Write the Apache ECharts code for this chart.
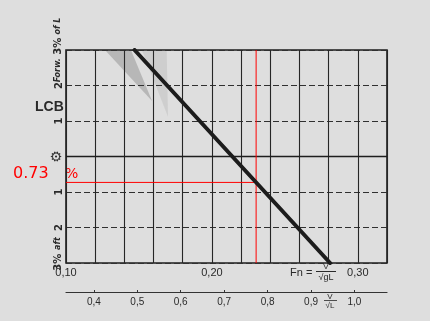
<!DOCTYPE html>
<html>
<head>
<meta charset="utf-8">
<script src="https://cdn.jsdelivr.net/npm/echarts@6/dist/echarts.min.js"></script>
<style>
html,body{margin:0;padding:0;background:#dedede;}
#c{width:430px;height:321px;}
</style>
</head>
<body>
<div id="c"></div>
<script>
// ---- data ----
var fnTicks = [0.10, 0.20, 0.30];                 // labelled Froude numbers
var lcbTicks = [3, 2, 1, 0, -1, -2, -3];          // LCB, % of L (+ forward)
var vlTicks = [0.4, 0.5, 0.6, 0.7, 0.8, 0.9, 1.0]; // V/sqrt(L) labels
var fnPerVL = 0.2977;                              // Fn = 0.2977 * V/sqrt(L)
var lcbLineFn = [0.147, 0.281];                   // black design line, Fn
var lcbLineVal = [3, -3];                         // black design line, LCB
var designFn = 0.2303;                            // read-off Froude number
var designLcb = -0.73;                            // read-off LCB (aft)
var designLabel = '0.73';
var shadeDarkFn = [0.1267, 0.1445, 0.159];
var shadeDarkLcb = [3, 3, 1.56];
var shadeLightFn = [0.152, 0.169, 0.1699];
var shadeLightLcb = [3, 3, 1.12];

function comma(v, d) { return v.toFixed(d).replace('.', ','); }
function pairs(xs, ys) { return xs.map(function (x, i) { return [x, ys[i]]; }); }

var shapes = [
  { pts: pairs(shadeDarkFn, shadeDarkLcb), fill: 'rgba(60,60,60,0.24)' },
  { pts: pairs(shadeLightFn, shadeLightLcb), fill: 'rgba(80,80,80,0.11)' }
];

var chart = echarts.init(document.getElementById('c'), null, { renderer: 'canvas' });
var txt = '#2a2a2a';
var richY = {
  s: { fontSize: 8, fontStyle: 'italic', fontWeight: 'bold', fill: txt, color: txt, fontFamily: 'DejaVu Sans' },
  b: { fontSize: 10, fontWeight: 'bold', fill: txt, color: txt, fontFamily: 'DejaVu Sans' },
  n: { fontSize: 10, fontWeight: 'bold', color: txt, fontFamily: 'DejaVu Sans' },
  g: { fontSize: 14, color: '#333', fontFamily: 'DejaVu Sans' },
  sp: { width: 18 }
};
var option = {
  backgroundColor: '#dedede',
  animation: false,
  grid: { left: 66, right: 43, top: 50, bottom: 58, show: true, borderColor: '#1e1e1e', borderWidth: 1.6, backgroundColor: 'transparent' },
  xAxis: [{
    type: 'value', min: 0.10, max: 0.32, interval: 0.02,
    axisLine: { show: false }, axisTick: { show: false },
    axisLabel: {
      margin: 4, color: txt, fontSize: 11, fontFamily: 'Liberation Sans', showMinLabel: true, showMaxLabel: true,
      formatter: function (v) {
        for (var i = 0; i < fnTicks.length; i++) if (Math.abs(v - fnTicks[i]) < 1e-6) return comma(fnTicks[i], 2);
        return '';
      }
    },
    splitLine: { show: true, lineStyle: { color: '#262626', width: 1.1 } }
  }, {
    type: 'value', position: 'bottom', offset: 29,
    min: 0.10 / fnPerVL, max: 0.32 / fnPerVL,
    axisLine: { show: true, onZero: false, lineStyle: { color: '#333', width: 1.2 } },
    axisTick: { show: true, inside: true, length: 2, customValues: vlTicks, lineStyle: { color: '#333' } },
    axisLabel: { customValues: vlTicks, margin: 5, color: txt, fontSize: 10, fontFamily: 'Liberation Sans',
      formatter: function (v) { return comma(v, 1); } },
    splitLine: { show: false }
  }],
  yAxis: {
    type: 'value', min: -3, max: 3, interval: 1,
    axisLine: { show: false }, axisTick: { show: false },
    axisLabel: {
      rotate: 90, margin: 2, color: txt, fontFamily: 'DejaVu Sans', showMinLabel: true, showMaxLabel: true, hideOverlap: false,
      formatter: function (v) {
        if (v === 3) return '';
        if (v === -3) return '{sp| }{b|3%} {s|aft}';
        if (v === 0) return '{g|\u2699}';
        return '{n|' + Math.abs(v) + '}';
      },
      rich: richY
    },
    splitLine: { show: true, lineStyle: { color: '#303030', width: 1, type: [6, 3] } }
  },
  series: [{
    type: 'custom', z: 1, silent: true,
    data: shapes.map(function (s, i) { return [s.pts[0][0], s.pts[0][1], i]; }),
    renderItem: function (params, api) {
      var s = shapes[params.dataIndex];
      return { type: 'polygon', shape: { points: s.pts.map(function (p) { return api.coord(p); }) },
        style: { fill: s.fill } };
    }
  }, {
    type: 'line', z: 2, symbol: 'none', silent: true,
    data: [[0.10, 0], [0.32, 0]],
    lineStyle: { color: '#1e1e1e', width: 1.4 }
  }, {
    type: 'line', z: 5, symbol: 'none',
    data: pairs(lcbLineFn, lcbLineVal),
    lineStyle: { color: '#1c1c1c', width: 4, cap: 'round' }
  }, {
    type: 'line', z: 4, symbol: 'none',
    data: [[0.10, designLcb], [designFn, designLcb]],
    lineStyle: { color: '#ff0000', width: 1 }
  }, {
    type: 'line', z: 4, symbol: 'none',
    data: [[designFn, 3], [designFn, -3]],
    lineStyle: { color: '#ff0000', width: 1 }
  }],
  graphic: [
    { type: 'text', x: 64, y: 50, rotation: Math.PI / 2,
      style: { text: '{s|Forw.} {b|3%} {s|of L}', rich: richY, align: 'center', verticalAlign: 'bottom', fill: txt } },
    { type: 'text', left: 35, top: 100, style: { text: 'LCB', fontSize: 14, fontWeight: 'bold', fontFamily: 'Liberation Sans', fill: txt } },
    { type: 'text', x: 13, y: 174, style: { text: designLabel, fontSize: 16, fontFamily: 'DejaVu Sans', fill: '#ff0000', verticalAlign: 'middle' } },
    { type: 'text', x: 65, y: 174, style: { text: '%', fontSize: 14, fontFamily: 'DejaVu Sans', fill: '#ff0000', verticalAlign: 'middle' } },
    { type: 'text', x: 290, y: 273, style: { text: 'Fn =', fontSize: 11, fontFamily: 'Liberation Sans', fill: txt, verticalAlign: 'middle' } },
    { type: 'text', x: 326, y: 266.5, style: { text: 'V', fontSize: 8, fontFamily: 'Liberation Sans', fill: txt, align: 'center', verticalAlign: 'middle' } },
    { type: 'line', shape: { x1: 316, y1: 271.5, x2: 336, y2: 271.5 }, style: { stroke: txt, lineWidth: 1 } },
    { type: 'text', x: 326, y: 277.5, style: { text: '\u221AgL', fontSize: 9, fontFamily: 'Liberation Sans', fill: txt, align: 'center', verticalAlign: 'middle' } },
    { type: 'text', x: 330, y: 296.5, style: { text: 'V', fontSize: 8, fontFamily: 'Liberation Sans', fill: txt, align: 'center', verticalAlign: 'middle' } },
    { type: 'line', shape: { x1: 324, y1: 300.5, x2: 337, y2: 300.5 }, style: { stroke: txt, lineWidth: 0.8 } },
    { type: 'text', x: 330, y: 306, style: { text: '\u221AL', fontSize: 8, fontFamily: 'Liberation Sans', fill: txt, align: 'center', verticalAlign: 'middle' } }
  ]
};
chart.setOption(option);
</script>
</body>
</html>
